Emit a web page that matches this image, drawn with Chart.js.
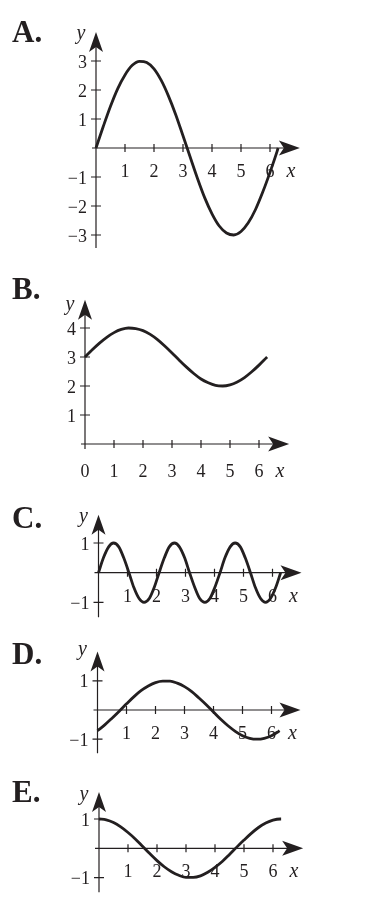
<!DOCTYPE html>
<html lang="en">
<head>
    <meta charset="UTF-8">
    <title>Sine graphs A to E</title>
    <script src="https://cdn.jsdelivr.net/npm/chart.js"></script>
    <style>
        body { margin: 0; background: #fff; }
        .panel { position: absolute; left: 0; }
    </style>
</head>
<body>
    <canvas id="chartA" class="panel" width="374" height="255" style="top:0px"></canvas>
    <canvas id="chartB" class="panel" width="374" height="235" style="top:255px"></canvas>
    <canvas id="chartC" class="panel" width="374" height="150" style="top:490px"></canvas>
    <canvas id="chartD" class="panel" width="374" height="140" style="top:640px"></canvas>
    <canvas id="chartE" class="panel" width="374" height="136" style="top:780px"></canvas>
    <script>
        // x positions
        const gridX = [0, 0.25, 0.5, 0.75, 1, 1.25, 1.5, 1.75, 2, 2.25, 2.5, 2.75, 3, 3.25,
            3.5, 3.75, 4, 4.25, 4.5, 4.75, 5, 5.25, 5.5, 5.75, 6, 6.25, 6.28];
        const gridC = [0, 0.17, 0.35, 0.52, 0.70, 0.87, 1.05, 1.22, 1.40, 1.57, 1.75, 1.92,
            2.09, 2.27, 2.44, 2.62, 2.79, 2.97, 3.14, 3.32, 3.49, 3.67, 3.84, 4.01, 4.19,
            4.36, 4.54, 4.71, 4.89, 5.06, 5.24, 5.41, 5.59, 5.76, 5.93, 6.11, 6.28];

        // y values of each curve
        const curveA = [0, 0.74, 1.44, 2.05, 2.52, 2.85, 2.99, 2.95, 2.73, 2.33, 1.79, 1.15, 0.42,
            -0.32, -1.05, -1.72, -2.27, -2.69, -2.93, -3.0, -2.88, -2.58, -2.12, -1.52, -0.84, -0.10, 0];
        const curveB = [3, 3.25, 3.48, 3.68, 3.84, 3.95, 4.0, 3.98, 3.91, 3.78, 3.6, 3.38, 3.14,
            2.89, 2.65, 2.43, 2.24, 2.11, 2.02, 2.0, 2.04, 2.14, 2.29, 2.49, 2.72, 2.97, 3.0];
        const curveC = [0, 0.5, 0.87, 1, 0.87, 0.5, 0, -0.5, -0.87, -1, -0.87, -0.5,
            0, 0.5, 0.87, 1, 0.87, 0.5, 0, -0.5, -0.87, -1, -0.87, -0.5,
            0, 0.5, 0.87, 1, 0.87, 0.5, 0, -0.5, -0.87, -1, -0.87, -0.5, 0];
        const curveD = [-0.71, -0.51, -0.28, -0.04, 0.21, 0.45, 0.66, 0.82, 0.94, 0.99, 0.99, 0.92,
            0.80, 0.63, 0.41, 0.18, -0.07, -0.32, -0.54, -0.73, -0.88, -0.97, -1.0, -0.97, -0.88, -0.73, -0.71];
        const curveE = [1, 0.97, 0.88, 0.73, 0.54, 0.32, 0.07, -0.18, -0.42, -0.63, -0.80, -0.92,
            -0.99, -0.99, -0.94, -0.82, -0.65, -0.45, -0.21, 0.04, 0.28, 0.51, 0.71, 0.86, 0.96, 1.0, 1.0];

        // tick labels
        const xTicks = [1, 2, 3, 4, 5, 6];
        const xTicksB = [0, 1, 2, 3, 4, 5, 6];
        const yTicksA = [3, 2, 1, -1, -2, -3];
        const yTicksB = [4, 3, 2, 1];
        const yTicksUnit = [1, -1];
        const letters = ['A.', 'B.', 'C.', 'D.', 'E.'];

        const ink = '#231f20';
        const serif = '"Liberation Serif", "Times New Roman", serif';

        function fmt(v) {
            return v < 0 ? '\u2212' + Math.abs(v) : String(v);
        }

        function arrowHead(ctx, tx, ty, dir) {
            // dir: 'up' or 'right'
            ctx.beginPath();
            if (dir === 'up') {
                ctx.moveTo(tx, ty);
                ctx.lineTo(tx - 7, ty + 20);
                ctx.lineTo(tx, ty + 15);
                ctx.lineTo(tx + 7, ty + 20);
            } else {
                ctx.moveTo(tx, ty);
                ctx.lineTo(tx - 21, ty - 7.5);
                ctx.lineTo(tx - 16, ty);
                ctx.lineTo(tx - 21, ty + 7.5);
            }
            ctx.closePath();
            ctx.fill();
        }

        const axesPlugin = {
            id: 'mathAxes',
            beforeDatasetsDraw(chart, args, o) {
                const { ctx, scales: { x, y } } = chart;
                const ox = x.getPixelForValue(0);
                const oy = y.getPixelForValue(0);
                const xTip = x.getPixelForValue(o.xTip);
                const yTip = y.getPixelForValue(o.yTop);
                const yBot = y.getPixelForValue(o.yBottom);
                ctx.save();
                ctx.strokeStyle = ink;
                ctx.fillStyle = ink;
                ctx.lineWidth = 1.2;
                ctx.beginPath();
                ctx.moveTo(ox - 4, oy);
                ctx.lineTo(xTip - 15, oy);
                ctx.moveTo(ox, yBot);
                ctx.lineTo(ox, yTip + 14);
                // ticks
                xTicks.forEach(v => {
                    const px = x.getPixelForValue(v);
                    ctx.moveTo(px, oy - 4);
                    ctx.lineTo(px, oy + 4);
                });
                o.yTicks.forEach(v => {
                    const py = y.getPixelForValue(v);
                    ctx.moveTo(ox - 5, py);
                    ctx.lineTo(ox + 5, py);
                });
                ctx.stroke();
                arrowHead(ctx, xTip, oy, 'right');
                arrowHead(ctx, ox, yTip, 'up');
                ctx.restore();
            },
            afterDatasetsDraw(chart, args, o) {
                const { ctx, scales: { x, y } } = chart;
                const ox = x.getPixelForValue(0);
                const oy = y.getPixelForValue(0);
                const yTip = y.getPixelForValue(o.yTop);
                ctx.save();
                ctx.fillStyle = ink;
                ctx.textBaseline = 'alphabetic';

                ctx.font = 'bold 31px ' + serif;
                ctx.textAlign = 'left';
                ctx.fillText(o.letter, 12, o.letterBase);

                ctx.font = '18px ' + serif;
                ctx.textAlign = 'center';
                o.xLabels.forEach(v => {
                    ctx.fillText(fmt(v), x.getPixelForValue(v), oy + o.xLabelDrop);
                });
                ctx.textAlign = 'right';
                o.yTicks.forEach(v => {
                    ctx.fillText(fmt(v), ox - 9, y.getPixelForValue(v) + 6.5);
                });

                ctx.font = 'italic 20px ' + serif;
                ctx.textAlign = 'center';
                ctx.fillText('x', x.getPixelForValue(6.72), oy + o.xLabelDrop);
                ctx.fillText('y', ox - 15, yTip + o.yLabelDrop);
                ctx.restore();
            }
        };

        function makePanel(id, xs, ys, p) {
            const canvas = document.getElementById(id);
            const w = canvas.width, h = canvas.height;
            new Chart(canvas, {
                type: 'line',
                data: {
                    datasets: [{
                        data: xs.map((v, i) => ({ x: v, y: ys[i] })),
                        borderColor: ink,
                        borderWidth: 2.8,
                        pointRadius: 0,
                        cubicInterpolationMode: 'monotone',
                        fill: false
                    }]
                },
                options: {
                    responsive: false,
                    animation: false,
                    devicePixelRatio: 1,
                    layout: { padding: 0 },
                    plugins: {
                        legend: { display: false },
                        tooltip: { enabled: false },
                        mathAxes: p
                    },
                    scales: {
                        x: {
                            type: 'linear', display: false,
                            min: -p.ox / p.ux, max: (w - p.ox) / p.ux
                        },
                        y: {
                            type: 'linear', display: false,
                            min: -(h - p.oy) / p.uy, max: p.oy / p.uy
                        }
                    }
                },
                plugins: [axesPlugin]
            });
        }

        makePanel('chartA', gridX, curveA, {
            letter: letters[0], letterBase: 42, ox: 96, oy: 148, ux: 29, uy: 29,
            xTip: 7.03, yTop: 4.0, yBottom: -3.45, yTicks: yTicksA, xLabels: xTicks,
            xLabelDrop: 29, yLabelDrop: 7
        });
        makePanel('chartB', gridX, curveB, {
            letter: letters[1], letterBase: 44, ox: 85, oy: 189, ux: 29, uy: 29,
            xTip: 7.04, yTop: 4.97, yBottom: -0.17, yTicks: yTicksB, xLabels: xTicksB,
            xLabelDrop: 33, yLabelDrop: 10
        });
        makePanel('chartC', gridC, curveC, {
            letter: letters[2], letterBase: 38, ox: 98.5, oy: 82.7, ux: 29, uy: 29.7,
            xTip: 7.0, yTop: 1.95, yBottom: -1.5, yTicks: yTicksUnit, xLabels: xTicks,
            xLabelDrop: 29, yLabelDrop: 7
        });
        makePanel('chartD', gridX, curveD, {
            letter: letters[3], letterBase: 24, ox: 97.5, oy: 70, ux: 29, uy: 29.2,
            xTip: 7.0, yTop: 2.0, yBottom: -1.48, yTicks: yTicksUnit, xLabels: xTicks,
            xLabelDrop: 29, yLabelDrop: 3
        });
        makePanel('chartE', gridX, curveE, {
            letter: letters[4], letterBase: 22, ox: 99, oy: 68.3, ux: 29, uy: 29.3,
            xTip: 7.04, yTop: 1.92, yBottom: -1.5, yTicks: yTicksUnit, xLabels: xTicks,
            xLabelDrop: 28.5, yLabelDrop: 8
        });
    </script>
</body>
</html>
